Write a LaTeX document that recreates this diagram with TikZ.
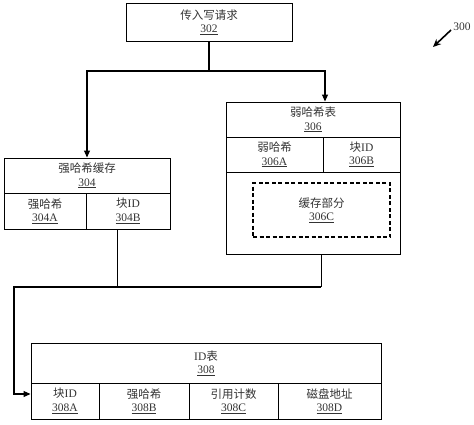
\documentclass[tikz,border=0pt]{standalone}
\usepackage{fontspec}
\usepackage[]{xcolor}
\usepackage{tikz}
\usetikzlibrary{arrows.meta}
\setmainfont{Liberation Serif}
\newfontfamily\cjk{Noto Sans CJK SC}
\newcommand{\zh}[1]{{\cjk #1}}
\definecolor{ink}{gray}{0.2}

\begin{document}
\begin{tikzpicture}[x=1pt,y=-1pt,
    cell/.style={draw=black,line width=1pt,rectangle,inner sep=0pt,align=center,
      text=ink,font=\fontsize{11.5}{13.5}\selectfont},
    link/.style={draw=black,line width=1.1pt},
    linkarrow/.style={link,-{Triangle[length=7pt,width=6pt]}}]
    \useasboundingbox (0,0) rectangle (474,424);
    \node[cell,minimum width=166pt,minimum height=38pt] (req) at (209,22) {\zh{传入写请求}\\\underline{302}};
    \node[cell,minimum width=166pt,minimum height=35pt] (sc) at (87,175.5) {\zh{强哈希缓存}\\\underline{304}};
    \node[cell,minimum width=82pt,minimum height=36pt] (sca) at (45,211) {\zh{强哈希}\\\underline{304A}};
    \node[cell,minimum width=84pt,minimum height=36pt] (scb) at (128,211) {\zh{块}ID\\\underline{304B}};
    \node[cell,minimum width=174pt,minimum height=35pt] (wt) at (313,119.5) {\zh{弱哈希表}\\\underline{306}};
    \node[cell,minimum width=97pt,minimum height=35pt] (wta) at (274.5,154.5) {\zh{弱哈希}\\\underline{306A}};
    \node[cell,minimum width=77pt,minimum height=35pt] (wtb) at (361.5,154.5) {\zh{块}ID\\\underline{306B}};
    \node[cell,minimum width=174pt,minimum height=82pt] (wtl) at (313,213) {};
    \node[cell,dashed,line width=1.6pt,dash pattern=on 4pt off 2.5pt,minimum width=137pt,minimum height=54pt] (wtc) at (321.5,210) {\zh{缓存部分}\\\underline{306C}};
    \node[cell,minimum width=350pt,minimum height=40pt] (idt) at (206,363) {ID\zh{表}\\\underline{308}};
    \node[cell,minimum width=68pt,minimum height=36pt] (ida) at (65,401) {\zh{块}ID\\\underline{308A}};
    \node[cell,minimum width=90pt,minimum height=36pt] (idb) at (144,401) {\zh{强哈希}\\\underline{308B}};
    \node[cell,minimum width=89pt,minimum height=36pt] (idc) at (233.5,401) {\zh{引用计数}\\\underline{308C}};
    \node[cell,minimum width=103pt,minimum height=36pt] (idd) at (329.5,401) {\zh{磁盘地址}\\\underline{308D}};
    \coordinate (split) at (209,71);
    \coordinate (splitl) at (87,71);
    \coordinate (splitr) at (325,71);
    \coordinate (outs) at (117,229);
    \coordinate (outw) at (321,254);
    \coordinate (merge) at (117,287);
    \coordinate (mergew) at (321,287);
    \coordinate (turn) at (14,287);
    \coordinate (turnb) at (14,394);
    \draw[link] (req.south) -- (split);
    \draw[linkarrow] (split) -- (splitl) -- (sc.north);
    \draw[linkarrow] (split) -- (splitr) -- (splitr |- wt.north);
    \draw[link,line width=0.9pt] (outs) -- (merge);
    \draw[link,line width=0.9pt] (outw) -- (mergew);
    \draw[linkarrow] (mergew) -- (turn) -- (turnb) -- (turnb -| ida.west);
    \node[text=ink,font=\fontsize{11.5}{13.5}\selectfont] (fig) at (462,27) {300};
    \draw[line width=1.6pt,-{Stealth[length=8pt,width=7pt]}] (451,30) -- (433,47);
\end{tikzpicture}
\end{document}
